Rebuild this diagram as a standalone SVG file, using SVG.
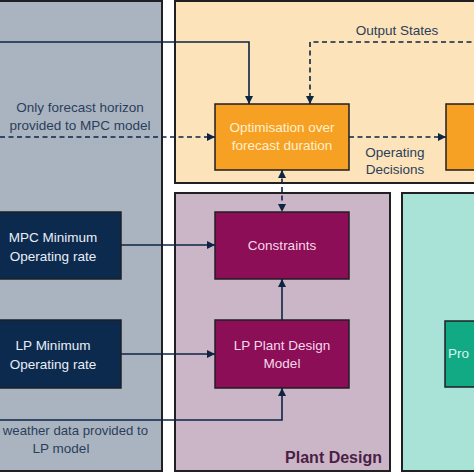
<svg xmlns="http://www.w3.org/2000/svg" width="474" height="474" viewBox="0 0 474 474">
<defs>
<marker id="ah" viewBox="0 0 10 10" refX="10" refY="5" markerWidth="8" markerHeight="8" markerUnits="userSpaceOnUse" orient="auto-start-reverse">
<path d="M0,0 L10,5 L0,10 z" fill="#0c2545"/>
</marker>
<style>
.panel{stroke:#1f1f24;stroke-width:2}
.box{stroke:#1f1f24;stroke-width:1.5}
.ln{fill:none;stroke:#0c2545;stroke-width:1.6}
.dash{stroke-dasharray:5,3.5}
text{font-family:"Liberation Sans",Arial,sans-serif;font-size:13.5px;text-anchor:middle}
.lbl{fill:#2a3e5c}
.wo{fill:#fff0cf}
.wc{fill:#f7d8ea}
.wn{fill:#e9eef8}
.wt{fill:#dcf5ee}
</style>
</defs>
<rect width="474" height="474" fill="#ffffff"/>
<g id="panels">
<rect id="panel-left" class="panel" x="-10" y="1" width="172" height="470" fill="#aab4c1"/>
<rect id="panel-mpc" class="panel" x="175" y="1" width="310" height="182" fill="#fde3b9"/>
<rect id="panel-plant" class="panel" x="175" y="193" width="215" height="278" fill="#cbb6c8"/>
<rect id="panel-teal" class="panel" x="402" y="193" width="80" height="278" fill="#a9e2d6"/>
</g>
<g id="connectors">
<polyline class="ln" points="0,42 249,42 249,104" marker-end="url(#ah)"/>
<polyline class="ln dash" points="480,42 310,42 310,104" marker-end="url(#ah)"/>
<line class="ln dash" x1="0" y1="137" x2="215" y2="137" marker-end="url(#ah)"/>
<line class="ln dash" x1="349" y1="137" x2="446" y2="137" marker-end="url(#ah)"/>
<line class="ln dash" x1="282" y1="170" x2="282" y2="212" marker-start="url(#ah)" marker-end="url(#ah)"/>
<line class="ln" x1="121" y1="245" x2="215" y2="245" marker-end="url(#ah)"/>
<line class="ln" x1="121" y1="354" x2="215" y2="354" marker-end="url(#ah)"/>
<line class="ln" x1="282" y1="320" x2="282" y2="279" marker-end="url(#ah)"/>
<polyline class="ln" points="0,420 282,420 282,388" marker-end="url(#ah)"/>
</g>
<g id="labels">
<text class="lbl" x="80" y="112">Only forecast horizon</text>
<text class="lbl" x="80" y="130">provided to MPC model</text>
<text class="lbl" x="397" y="35">Output States</text>
<text class="lbl" x="395" y="157">Operating</text>
<text class="lbl" x="395" y="174">Decisions</text>
<text class="lbl" x="148" y="435" style="text-anchor:end;font-size:13.2px">weather data provided to</text>
<text class="lbl" x="61" y="453">LP model</text>
<text x="382" y="463" style="text-anchor:end;font-weight:bold;font-size:16px;fill:#4a1f45">Plant Design</text>
</g>
<g id="node-optimisation">
<rect class="box" x="215" y="104" width="134" height="66" fill="#f7a124"/>
<text class="wo" x="282" y="132">Optimisation over</text>
<text class="wo" x="282" y="150">forecast duration</text>
</g>
<g id="node-right-orange">
<rect class="box" x="446" y="104" width="40" height="66" fill="#f7a124"/>
</g>
<g id="node-constraints">
<rect class="box" x="215" y="212" width="134" height="67" fill="#8b0e57"/>
<text class="wc" x="282" y="250">Constraints</text>
</g>
<g id="node-lp-plant">
<rect class="box" x="215" y="320" width="134" height="68" fill="#8b0e57"/>
<text class="wc" x="282" y="350">LP Plant Design</text>
<text class="wc" x="282" y="368">Model</text>
</g>
<g id="node-mpc-min">
<rect class="box" x="-15" y="212" width="136" height="67" fill="#0c2a4d"/>
<text class="wn" x="53" y="242">MPC Minimum</text>
<text class="wn" x="53" y="261">Operating rate</text>
</g>
<g id="node-lp-min">
<rect class="box" x="-15" y="320" width="136" height="68" fill="#0c2a4d"/>
<text class="wn" x="53" y="350">LP Minimum</text>
<text class="wn" x="53" y="369">Operating rate</text>
</g>
<g id="node-pro">
<rect class="box" x="445" y="321" width="40" height="66" fill="#12a985"/>
<text class="wt" x="448" y="358" style="text-anchor:start">Pro</text>
</g>
</svg>
